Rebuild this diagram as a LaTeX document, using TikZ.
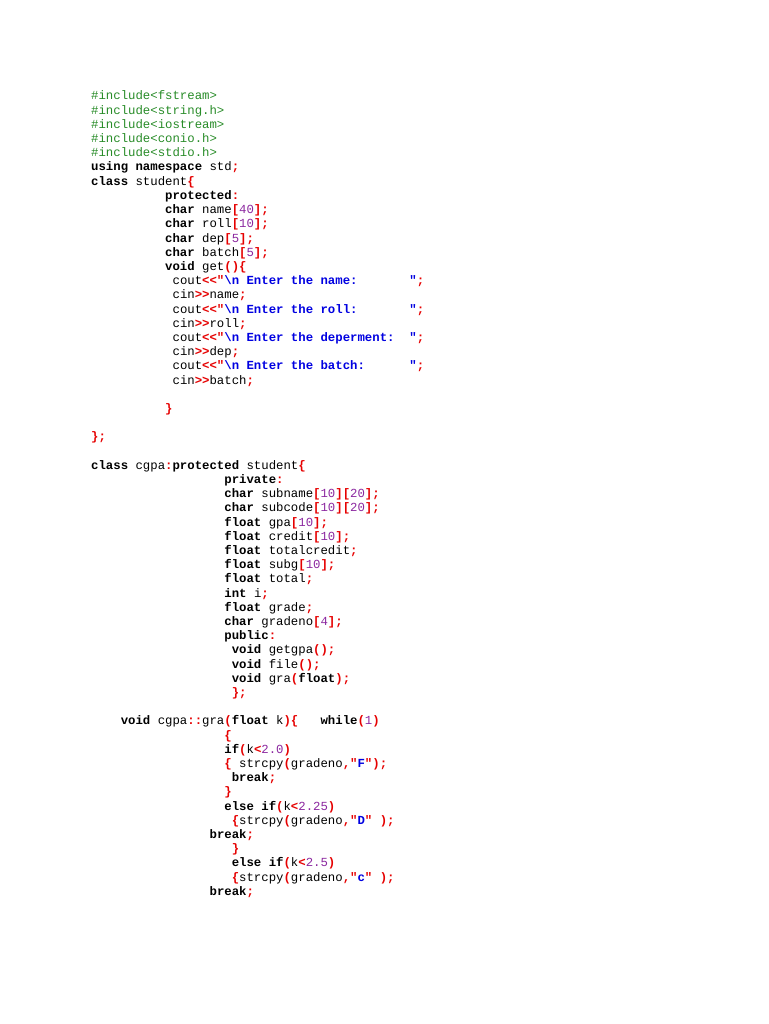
\documentclass[tikz,border=0pt]{standalone}
\usepackage{fontspec}
\setmonofont{Liberation Mono}
\definecolor{cgr}{RGB}{40,140,40}
\definecolor{crd}{RGB}{230,0,0}
\definecolor{cpu}{RGB}{140,40,160}
\definecolor{cbl}{RGB}{0,0,225}
\newcommand{\kw}[1]{\textbf{#1}}
\newcommand{\rd}[1]{\textcolor{crd}{\textbf{#1}}}
\newcommand{\nm}[1]{\textcolor{cpu}{#1}}
\newcommand{\st}[1]{\textcolor{cbl}{\textbf{#1}}}
\newcommand{\gr}[1]{\textcolor{cgr}{#1}}
\newcommand{\Ln}[3]{\node[codeline] (l#1) at ({(91+#2*7.4)*1pt},{-(100+(#1-1)*14.2)*1pt}) {#3};}
\begin{document}
\begin{tikzpicture}[codeline/.style={anchor=base west,inner sep=0pt,font=\ttfamily\fontsize{12.33}{14}\selectfont}]
\useasboundingbox[fill=white] (0,0) rectangle (768pt,-1024pt);
\Ln{1}{0}{\gr{\#include<fstream>}}
\Ln{2}{0}{\gr{\#include<string.h>}}
\Ln{3}{0}{\gr{\#include<iostream>}}
\Ln{4}{0}{\gr{\#include<conio.h>}}
\Ln{5}{0}{\gr{\#include<stdio.h>}}
\Ln{6}{0}{\kw{using namespace} std\rd{;}}
\Ln{7}{0}{\kw{class} student\rd{\{}}
\Ln{8}{10}{\kw{protected}\rd{:}}
\Ln{9}{10}{\kw{char} name\rd{[}\nm{40}\rd{];}}
\Ln{10}{10}{\kw{char} roll\rd{[}\nm{10}\rd{];}}
\Ln{11}{10}{\kw{char} dep\rd{[}\nm{5}\rd{];}}
\Ln{12}{10}{\kw{char} batch\rd{[}\nm{5}\rd{];}}
\Ln{13}{10}{\kw{void} get\rd{()\{}}
\Ln{14}{11}{cout\rd{<<"}\st{\textbackslash n Enter the name:~~~~~~~"}\rd{;}}
\Ln{15}{11}{cin\rd{>>}name\rd{;}}
\Ln{16}{11}{cout\rd{<<"}\st{\textbackslash n Enter the roll:~~~~~~~"}\rd{;}}
\Ln{17}{11}{cin\rd{>>}roll\rd{;}}
\Ln{18}{11}{cout\rd{<<"}\st{\textbackslash n Enter the deperment:~~"}\rd{;}}
\Ln{19}{11}{cin\rd{>>}dep\rd{;}}
\Ln{20}{11}{cout\rd{<<"}\st{\textbackslash n Enter the batch:~~~~~~"}\rd{;}}
\Ln{21}{11}{cin\rd{>>}batch\rd{;}}
\Ln{23}{10}{\rd{\}}}
\Ln{25}{0}{\rd{\};}}
\Ln{27}{0}{\kw{class} cgpa\rd{:}\kw{protected} student\rd{\{}}
\Ln{28}{18}{\kw{private}\rd{:}}
\Ln{29}{18}{\kw{char} subname\rd{[}\nm{10}\rd{][}\nm{20}\rd{];}}
\Ln{30}{18}{\kw{char} subcode\rd{[}\nm{10}\rd{][}\nm{20}\rd{];}}
\Ln{31}{18}{\kw{float} gpa\rd{[}\nm{10}\rd{];}}
\Ln{32}{18}{\kw{float} credit\rd{[}\nm{10}\rd{];}}
\Ln{33}{18}{\kw{float} totalcredit\rd{;}}
\Ln{34}{18}{\kw{float} subg\rd{[}\nm{10}\rd{];}}
\Ln{35}{18}{\kw{float} total\rd{;}}
\Ln{36}{18}{\kw{int} i\rd{;}}
\Ln{37}{18}{\kw{float} grade\rd{;}}
\Ln{38}{18}{\kw{char} gradeno\rd{[}\nm{4}\rd{];}}
\Ln{39}{18}{\kw{public}\rd{:}}
\Ln{40}{19}{\kw{void} getgpa\rd{();}}
\Ln{41}{19}{\kw{void} file\rd{();}}
\Ln{42}{19}{\kw{void} gra\rd{(}\kw{float}\rd{);}}
\Ln{43}{19}{\rd{\};}}
\Ln{45}{4}{\kw{void} cgpa\rd{::}gra\rd{(}\kw{float} k\rd{)\{}~~~\kw{while}\rd{(}\nm{1}\rd{)}}
\Ln{46}{18}{\rd{\{}}
\Ln{47}{18}{\kw{if}\rd{(}k\rd{<}\nm{2.0}\rd{)}}
\Ln{48}{18}{\rd{\{}~strcpy\rd{(}gradeno\rd{,"}\st{F}\rd{");}}
\Ln{49}{19}{\kw{break}\rd{;}}
\Ln{50}{18}{\rd{\}}}
\Ln{51}{18}{\kw{else if}\rd{(}k\rd{<}\nm{2.25}\rd{)}}
\Ln{52}{19}{\rd{\{}strcpy\rd{(}gradeno\rd{,"}\st{D}\rd{"}~\rd{);}}
\Ln{53}{16}{\kw{break}\rd{;}}
\Ln{54}{19}{\rd{\}}}
\Ln{55}{19}{\kw{else if}\rd{(}k\rd{<}\nm{2.5}\rd{)}}
\Ln{56}{19}{\rd{\{}strcpy\rd{(}gradeno\rd{,"}\st{c}\rd{"}~\rd{);}}
\Ln{57}{16}{\kw{break}\rd{;}}
\end{tikzpicture}
\end{document}
